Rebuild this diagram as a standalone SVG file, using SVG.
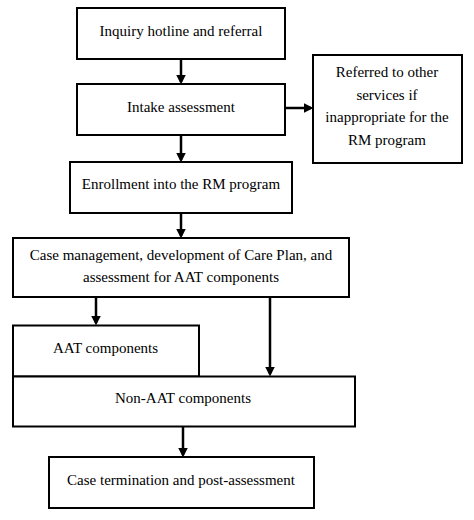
<svg xmlns="http://www.w3.org/2000/svg" width="474" height="520" viewBox="0 0 474 520">
<style>
.box{fill:#fff;stroke:#000;stroke-width:2}
.t{font-family:"Liberation Serif","Times New Roman",serif;font-size:15px;fill:#000;text-anchor:middle}
.c{stroke:#000;stroke-width:2.5;fill:none}
</style>
<defs>
<marker id="ah" markerWidth="4" markerHeight="4" refX="3" refY="2" orient="auto" markerUnits="strokeWidth">
<path d="M0,0 L4,2 L0,4 Z" fill="#000"/>
</marker>
</defs>
<rect width="474" height="520" fill="#fff"/>
<g id="connectors">
<line class="c" x1="181" y1="59" x2="181" y2="82" marker-end="url(#ah)"/>
<line class="c" x1="286" y1="108" x2="311" y2="108" marker-end="url(#ah)"/>
<line class="c" x1="181" y1="135" x2="181" y2="160" marker-end="url(#ah)"/>
<line class="c" x1="181" y1="213" x2="181" y2="236" marker-end="url(#ah)"/>
<line class="c" x1="96" y1="297" x2="96" y2="323" marker-end="url(#ah)"/>
<line class="c" x1="270" y1="297" x2="270" y2="374" marker-end="url(#ah)"/>
<line class="c" x1="183" y1="427" x2="183" y2="455" marker-end="url(#ah)"/>
</g>
<g id="n1"><rect class="box" x="77" y="8" width="208" height="51"/><text class="t" x="181" y="36">Inquiry hotline and referral</text></g>
<g id="n2"><rect class="box" x="77" y="84" width="208" height="51"/><text class="t" x="181" y="112">Intake assessment</text></g>
<g id="n3"><rect class="box" x="313" y="55" width="149" height="108"/>
<text class="t" x="387" y="77">Referred to other</text>
<text class="t" x="387" y="99.5">services if</text>
<text class="t" x="387" y="122">inappropriate for the</text>
<text class="t" x="387" y="144.5">RM program</text></g>
<g id="n4"><rect class="box" x="70" y="162" width="222" height="51"/><text class="t" x="181" y="189">Enrollment into the RM program</text></g>
<g id="n5"><rect class="box" x="13" y="238" width="336" height="59"/>
<text class="t" x="181" y="260">Case management, development of Care Plan, and</text>
<text class="t" x="181" y="282">assessment for AAT components</text></g>
<g id="n6"><rect class="box" x="13" y="325.5" width="186" height="51"/><text class="t" x="105.5" y="353">AAT components</text></g>
<g id="n7"><rect class="box" x="13" y="376.5" width="342" height="50"/><text class="t" x="183" y="403">Non-AAT components</text></g>
<g id="n8"><rect class="box" x="49" y="457" width="265" height="51"/><text class="t" x="181" y="485">Case termination and post-assessment</text></g>
</svg>
